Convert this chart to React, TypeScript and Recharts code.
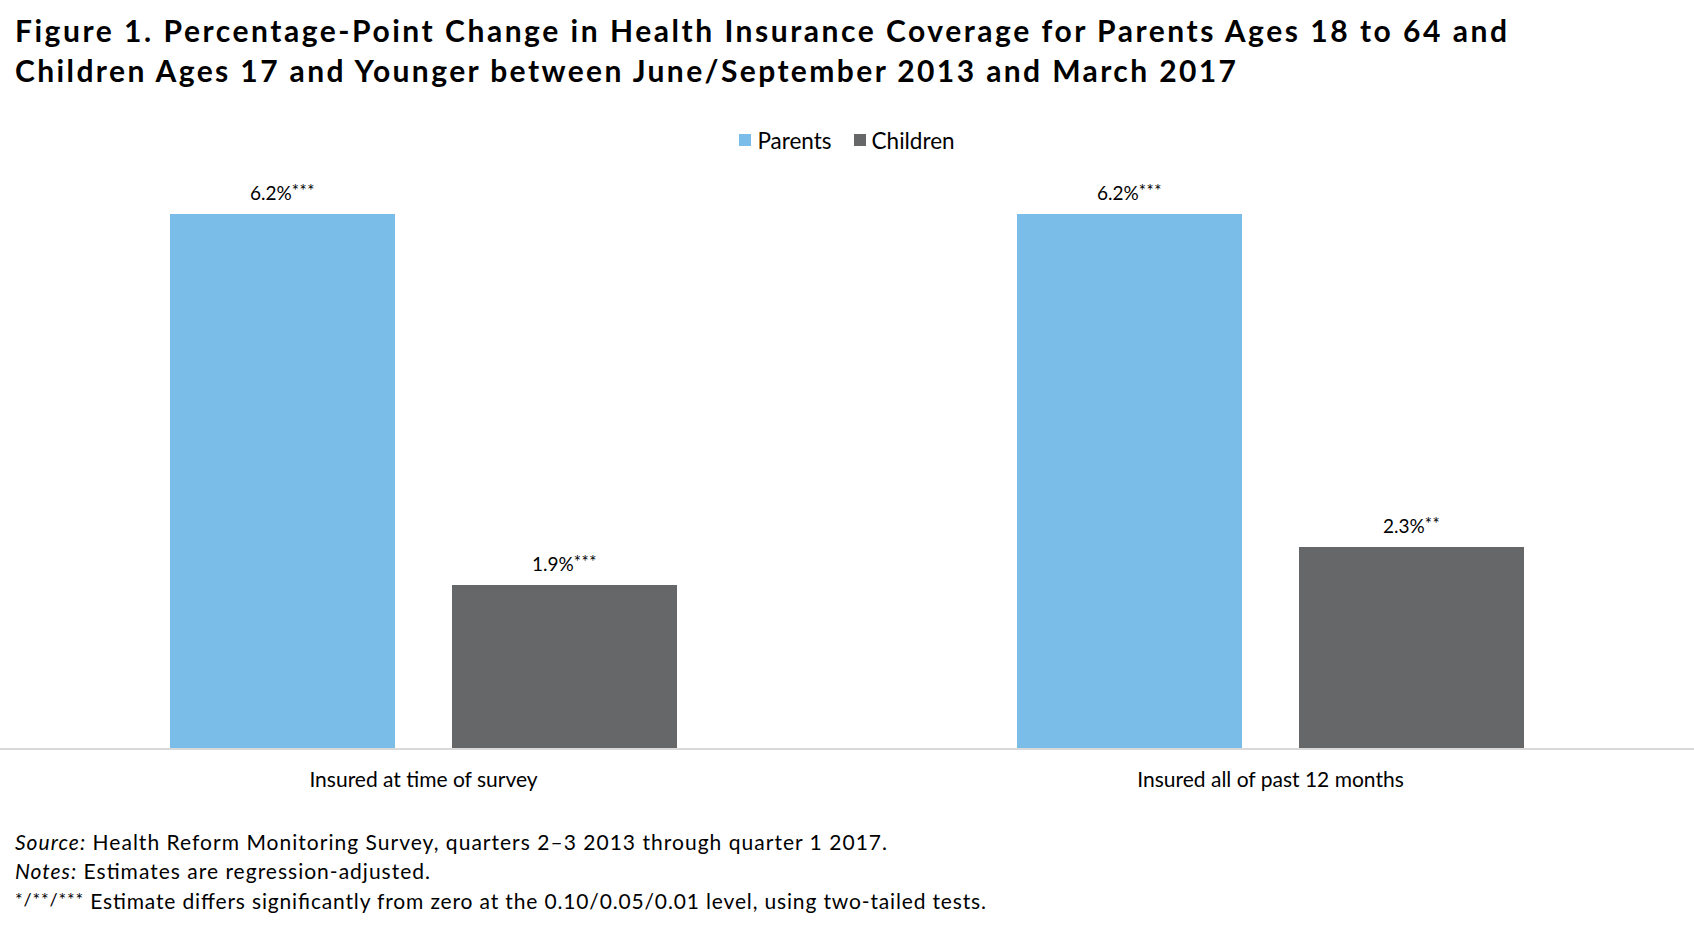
import { BarChart, Bar, XAxis, YAxis, Legend, LabelList } from "recharts";

const categories = ["Insured at time of survey", "Insured all of past 12 months"];
const parents = [6.2, 6.2];
const children = [1.9, 2.34];
const parentStars = ["***", "***"];
const childStars = ["***", "**"];
const seriesOrder = ["Parents", "Children"];

const data = categories.map((name, i) => ({
  name,
  parents: parents[i],
  children: children[i],
}));

const BLUE = "#79bde8";
const GREY = "#666769";
const FONT = "Lato, 'Open Sans', sans-serif";

function makeLabel(stars: string[]) {
  return (props: any) => {
    const { x, y, width, value, index } = props;
    return (
      <text
        x={x + width / 2}
        y={y - 14}
        textAnchor="middle"
        fontFamily={FONT}
        fill="#000"
      >
        <tspan fontSize={19}>{value.toFixed(1)}%</tspan>
        <tspan fontSize={17} dy={-3} letterSpacing={0.5}>
          {stars[index]}
        </tspan>
      </text>
    );
  };
}

function LegendContent(props: any) {
  const items = [...(props.payload || [])].sort(
    (a: any, b: any) => seriesOrder.indexOf(a.value) - seriesOrder.indexOf(b.value)
  );
  return (
    <div
      style={{
        height: 28,
        display: "flex",
        justifyContent: "center",
        alignItems: "center",
        fontFamily: FONT,
        fontSize: 22.5,
        color: "#000",
      }}
    >
      {items.map((it: any) => (
        <span
          key={it.value}
          style={{ display: "flex", alignItems: "center", margin: "0 11px" }}
        >
          <span
            style={{
              width: 12,
              height: 12,
              background: it.color,
              marginRight: 6,
              display: "inline-block",
            }}
          />
          {it.value}
        </span>
      ))}
    </div>
  );
}

export default function App() {
  return (
    <div
      style={{
        position: "absolute",
        left: 0,
        top: 0,
        width: 1694,
        height: 940,
        background: "#fff",
      }}
    >
      <BarChart
        width={1694}
        height={940}
        data={data}
        margin={{ top: 117, right: 0, bottom: 151, left: 0 }}
        barSize={225}
        barGap={57}
        style={{ position: "absolute", left: 0, top: 0 }}
      >
        <YAxis hide domain={[0, 7]} />
        <XAxis
          dataKey="name"
          height={40}
          axisLine={{ stroke: "#d9d9d9", strokeWidth: 2 }}
          tickLine={false}
          tickMargin={17}
          tick={{ fontFamily: FONT, fontSize: 21, fill: "#000" }}
        />
        <Legend
          verticalAlign="top"
          content={<LegendContent />}
          wrapperStyle={{ top: 126, left: 0, width: 1694 }}
        />
        <Bar dataKey="parents" name="Parents" fill={BLUE} isAnimationActive={false}>
          <LabelList dataKey="parents" content={makeLabel(parentStars)} />
        </Bar>
        <Bar dataKey="children" name="Children" fill={GREY} isAnimationActive={false}>
          <LabelList dataKey="children" content={makeLabel(childStars)} />
        </Bar>
      </BarChart>
      <svg
        width={1694}
        height={940}
        style={{ position: "absolute", left: 0, top: 0, pointerEvents: "none" }}
      >
        <g fontFamily={FONT} fill="#000">
          <text x={15} y={42} fontSize={30} fontWeight="bold" textLength={1492} lengthAdjust="spacing">
            Figure 1. Percentage-Point Change in Health Insurance Coverage for Parents Ages 18 to 64 and
          </text>
          <text x={15} y={82} fontSize={30} fontWeight="bold" textLength={1221} lengthAdjust="spacing">
            Children Ages 17 and Younger between June/September 2013 and March 2017
          </text>
          <text x={15} y={850} fontSize={21} textLength={872} lengthAdjust="spacing">
            <tspan fontStyle="italic">Source:</tspan> Health Reform Monitoring Survey, quarters 2–3 2013 through quarter 1 2017.
          </text>
          <text x={15} y={879} fontSize={21} textLength={415} lengthAdjust="spacing">
            <tspan fontStyle="italic">Notes:</tspan> Estimates are regression-adjusted.
          </text>
          <text x={15} y={909} fontSize={21} textLength={971} lengthAdjust="spacing">
            <tspan fontSize={18} dy={-3}>*/**/***</tspan>
            <tspan dy={3}> Estimate differs significantly from zero at the 0.10/0.05/0.01 level, using two-tailed tests.</tspan>
          </text>
        </g>
      </svg>
    </div>
  );
}
